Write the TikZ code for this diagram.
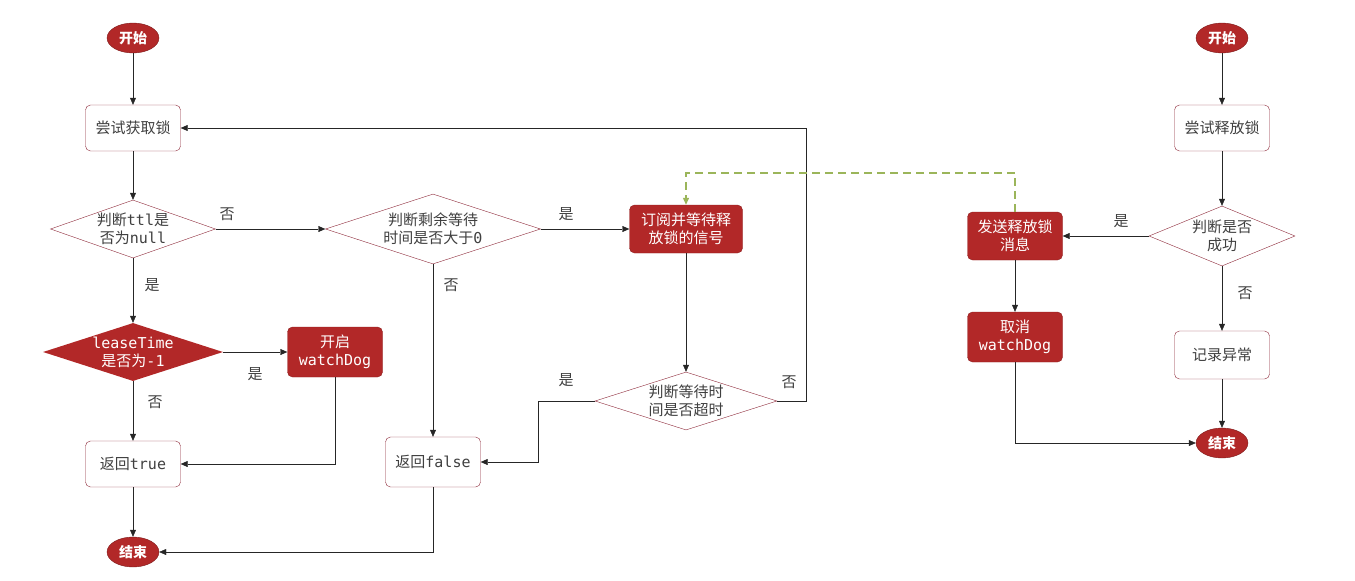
\documentclass[tikz,border=0pt]{standalone}
\usepackage{fontspec}
\setmainfont{Noto Sans CJK SC}
\newfontfamily\mono{DejaVu Sans Mono}
\usetikzlibrary{shapes.geometric,arrows.meta}
\definecolor{dred}{HTML}{B22828}
\definecolor{bord}{HTML}{8E2A3A}
\definecolor{gline}{HTML}{9BB55A}
\newcommand{\m}[1]{{\mono #1}}
\tikzset{
  every node/.style={font=\fontsize{15pt}{18pt}\selectfont, text=black!75, align=center},
  term/.style={ellipse, fill=dred, draw=dred!70!black, text=white, minimum width=52pt, minimum height=30pt, inner sep=0pt, font=\fontsize{14pt}{16pt}\selectfont\bfseries},
  wbox/.style={rectangle, rounded corners=5pt, draw=bord, fill=white, minimum width=95pt, minimum height=46pt},
  rbox/.style={rectangle, rounded corners=5pt, draw=dred!80!black, fill=dred, text=white, minimum width=95pt, minimum height=48pt},
  wdia/.style={diamond, draw=bord, fill=white, aspect=#1, inner sep=0pt},
  arr/.style={draw=black!85, -{Triangle[length=7pt,width=6pt]}},
  lab/.style={text=black!75}
}
\begin{document}
\begin{tikzpicture}[x=1pt,y=-1pt]
\useasboundingbox (0,0) rectangle (1355,581);
% left
\node[term] (s1) at (133,38) {开始};
\node[wbox] (try) at (133,128) {尝试获取锁};
\node[wdia=2.85, minimum width=165pt, minimum height=58pt] (d1) at (133,229) {};
\node at (133,229) {判断\m{ttl}是\\否为\m{null}};
\node[diamond, fill=dred, aspect=3.1, inner sep=0pt, minimum width=180pt, minimum height=58pt] (d2) at (133,352) {};
\node[text=white] at (133,352) {\m{leaseTime}\\是否为\m{-1}};
\node[rbox, minimum height=50pt] (wd) at (335,352) {开启\\\m{watchDog}};
\node[wbox] (rt) at (133,464) {返回\m{true}};
\node[term] (e1) at (133,552) {结束};
\node[wdia=3.07, minimum width=215pt, minimum height=70pt] (d3) at (433,229) {};
\node at (433,229) {判断剩余等待\\时间是否大于\m{0}};
\node[rbox, minimum width=113pt] (sub) at (686,229) {订阅并等待释\\放锁的信号};
\node[wdia=3.14, minimum width=182pt, minimum height=58pt] (d4) at (686,401) {};
\node at (686,401) {判断等待时\\间是否超时};
\node[wbox, minimum height=50pt] (rf) at (433,462) {返回\m{false}};
% right
\node[term] (s2) at (1222,38) {开始};
\node[wbox] (tr) at (1222,128) {尝试释放锁};
\node[wdia=2.43, minimum width=146pt, minimum height=60pt] (d5) at (1222,236) {};
\node at (1222,236) {判断是否\\成功};
\node[rbox] (send) at (1015,236) {发送释放锁\\消息};
\node[rbox, minimum height=50pt] (cancel) at (1015,337) {取消\\\m{watchDog}};
\node[wbox, minimum height=48pt] (rec) at (1222,355) {记录异常};
\node[term] (e2) at (1222,443) {结束};
% edges
\draw[arr] (s1) -- (try);
\draw[arr] (try) -- (d1);
\draw[arr] (d1) -- (d3);
\node[lab] at (227,214) {否};
\draw[arr] (d1) -- (d2);
\node[lab] at (152,285) {是};
\draw[arr] (d2) -- (wd);
\node[lab] at (255,374) {是};
\draw[arr] (d2) -- (rt);
\node[lab] at (155,402) {否};
\draw[arr] (wd.south) |- (rt.east);
\draw[arr] (rt) -- (e1);
\draw[arr] (rf.south) |- (e1.east);
\draw[arr] (d3) -- (sub);
\node[lab] at (566,214) {是};
\draw[arr] (d3.south) -- (rf.north);
\node[lab] at (451,285) {否};
\draw[arr] (sub) -- (d4);
\coordinate (c1) at (538,401);
\draw[arr] (d4.west) -- (c1) |- (rf.east);
\node[lab] at (566,380) {是};
\coordinate (c2) at (806,401);
\draw[arr] (d4.east) -- (c2) |- (try.east);
\node[lab] at (789,382) {否};
\coordinate (g1) at (1015,173);
\draw[gline, dash pattern=on 8pt off 5pt, line width=1.3pt, -{Triangle[length=7pt,width=6pt]}] (send.north) -- (g1) -| (sub.north);
\draw[arr] (s2) -- (tr);
\draw[arr] (tr) -- (d5);
\draw[arr] (d5) -- (send);
\node[lab] at (1121,221) {是};
\draw[arr] (d5) -- (rec);
\node[lab] at (1245,293) {否};
\draw[arr] (send) -- (cancel);
\draw[arr] (cancel.south) |- (e2.west);
\draw[arr] (rec) -- (e2);
\end{tikzpicture}
\end{document}
